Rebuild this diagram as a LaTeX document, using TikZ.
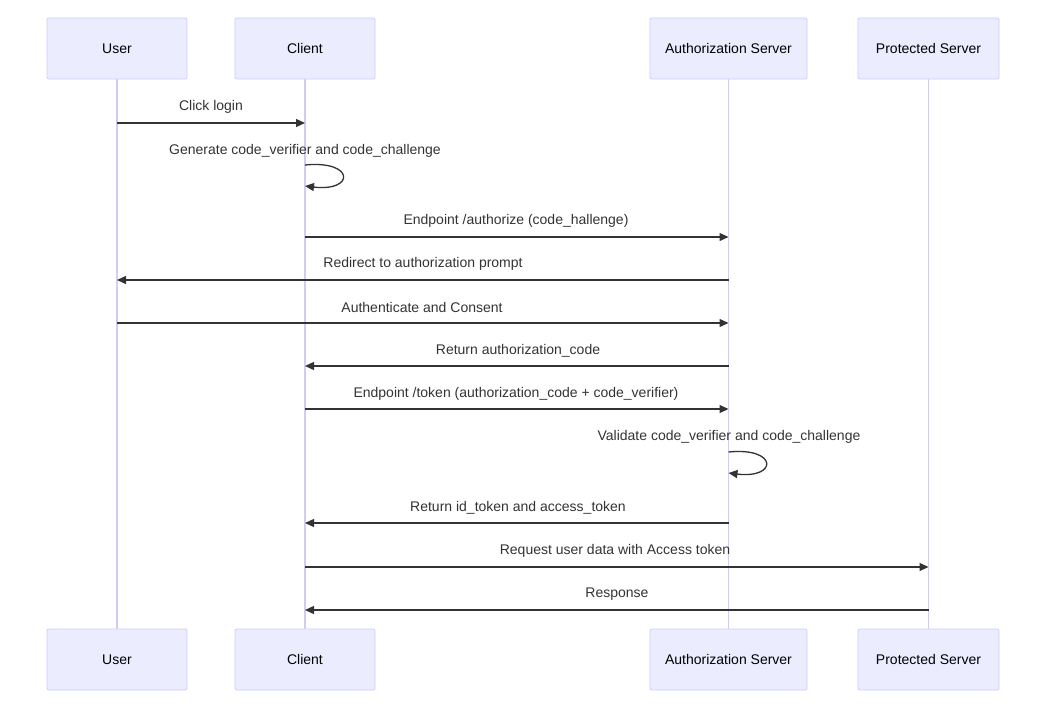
\documentclass[tikz,border=0pt]{standalone}
\usepackage{fontspec}
\setmainfont{Liberation Sans}
\usetikzlibrary{arrows.meta}
\definecolor{actfill}{HTML}{ECECFF}
\definecolor{actline}{HTML}{CCCCFF}
\definecolor{life}{HTML}{D2CBF2}
\definecolor{ink}{HTML}{333333}
\begin{document}
\begin{tikzpicture}[x=1pt,y=-1pt,
  actor/.style={draw=actline,fill=actfill,line width=0.8pt,rounded corners=2pt,minimum height=61pt,inner sep=0pt,font=\fontsize{14}{16}\selectfont},
  msg/.style={draw=ink,line width=1.3pt,-{Triangle[length=9pt,width=8pt]}},
  lbl/.style={font=\fontsize{14}{16}\selectfont,text=ink,inner sep=0pt}]
\useasboundingbox (0,0) rectangle (1045,710);
\foreach \n/\x/\w/\t in {u/117/140/User,c/305/140/Client,a/728.5/157/Authorization Server,p/928.5/141/Protected Server}{
  \draw[life,line width=1.3pt] (\x,79) -- (\x,629);
  \node[actor,minimum width=\w pt] (\n t) at (\x,48.5) {\t};
  \node[actor,minimum width=\w pt] (\n b) at (\x,659.5) {\t};
  \coordinate (\n) at (\x,0);
}
% messages
\newcommand\mymsg[4]{\draw[msg] (#1|-0,#3) -- (#2|-0,#3);}
\draw[msg] (u |- 0,123) -- (c |- 0,123); \node[lbl] (l1) at (211,107) {Click login};
\node[lbl] (l2) at (305,151) {Generate code\_verifier and code\_challenge};
\draw[msg] (305,165) .. controls (355,160) and (355,192) .. (c |- 0,186);
\draw[msg] (c |- 0,237) -- (a |- 0,237); \node[lbl] (l3) at (516,221) {Endpoint /authorize (code\_hallenge)};
\draw[msg] (a |- 0,280) -- (u |- 0,280); \node[lbl] (l4) at (423,264) {Redirect to authorization prompt};
\draw[msg] (u |- 0,323) -- (a |- 0,323); \node[lbl] (l5) at (422,307) {Authenticate and Consent};
\draw[msg] (a |- 0,366) -- (c |- 0,366); \node[lbl] (l6) at (518,351) {Return authorization\_code};
\draw[msg] (c |- 0,409) -- (a |- 0,409); \node[lbl] (l7) at (516,394) {Endpoint /token (authorization\_code + code\_verifier)};
\node[lbl] (l8) at (729,437) {Validate code\_verifier and code\_challenge};
\draw[msg] (728.5,452) .. controls (778,447) and (778,479) .. (a |- 0,473);
\draw[msg] (a |- 0,523) -- (c |- 0,523); \node[lbl] (l9) at (518,508) {Return id\_token and access\_token};
\draw[msg] (c |- 0,567) -- (p |- 0,567); \node[lbl] (l10) at (615,551) {Request user data with Access token};
\draw[msg] (p |- 0,610) -- (c |- 0,610); \node[lbl] (l11) at (617,594) {Response};
\end{tikzpicture}
\end{document}
